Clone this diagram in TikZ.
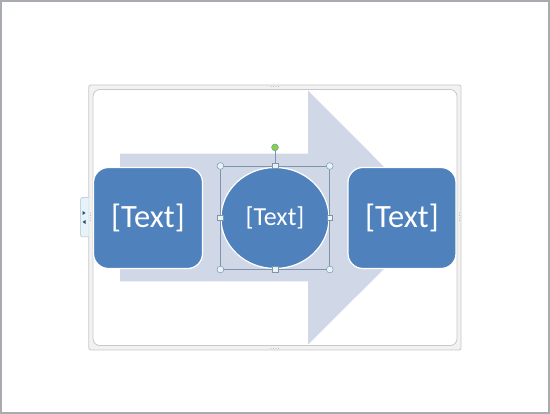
\documentclass[tikz,border=0pt]{standalone}
\usepackage{fontspec}
\setmainfont{Carlito}
\usetikzlibrary{positioning, shapes.geometric}

\definecolor{boxblue}{HTML}{4F81BD}
\definecolor{arrowfill}{HTML}{D0D8E8}
\definecolor{framegray}{HTML}{C8C8C8}
\definecolor{pagegray}{HTML}{A8ACB0}
\definecolor{selline}{HTML}{7F93AB}
\definecolor{handlefill}{HTML}{E6F4FA}
\definecolor{rotgreen}{HTML}{7ED646}
\definecolor{tabblue}{HTML}{1F4E79}

\tikzset{
    textbox/.style={draw=white, line width=1.2pt, fill=boxblue, rounded corners=15pt,
        minimum width=109pt, minimum height=101pt, text=white, font=\fontsize{32.5}{34}\selectfont},
    textoval/.style={draw=white, line width=1.2pt, fill=boxblue, ellipse, inner sep=0pt,
        minimum width=108pt, minimum height=101pt, text=white, font=\fontsize{26}{28}\selectfont},
    cornerhandle/.style={circle, draw=selline, fill=handlefill, line width=0.5pt,
        inner sep=0pt, minimum size=6.8pt},
    sidehandle/.style={rectangle, draw=selline, fill=handlefill, line width=0.5pt,
        inner sep=0pt, minimum size=5.5pt},
}

\begin{document}
\begin{tikzpicture}[x=1pt, y=-1pt]
    % Page
    \useasboundingbox (0,0) rectangle (550,414);
    \fill[pagegray] (0,0) rectangle (550,414);
    \fill[white] (2,2) rectangle (548,412);

    % SmartArt frame
    \filldraw[fill=black!5, draw=framegray, line width=0.8pt, rounded corners=2pt]
        (88.8,85) rectangle (461,350);
    \filldraw[fill=white, draw=framegray, line width=0.8pt, rounded corners=7pt]
        (93,89.5) rectangle (457,345.6);

    % Grips on the frame
    \foreach \x in {271,273.5,276,278.5} {
        \fill[black!30] (\x,86.6) circle (0.5pt);
        \fill[black!30] (\x,348.3) circle (0.5pt);
    }
    \foreach \y in {213,215.5,218,220.5} {
        \fill[black!30] (90.6,\y) circle (0.5pt);
        \fill[black!30] (459.3,\y) circle (0.5pt);
    }

    % Side tab
    \filldraw[fill=handlefill, draw=selline!60, line width=0.5pt, rounded corners=1.5pt]
        (88.5,197.5) -- (80.7,197.5) -- (80.7,237) -- (88.5,237);
    \fill[tabblue] (82.6,211) -- (85.6,213) -- (82.6,215) -- cycle;
    \fill[tabblue] (85.6,220) -- (82.6,222) -- (85.6,224) -- cycle;

    % Background arrow
    \fill[arrowfill] (120,153.7) -- (308,153.7) -- (308,90.5) -- (435,218)
        -- (308,344.6) -- (308,281.4) -- (120,281.4) -- cycle;

    % Shapes
    \node[textbox] (left) at (148,218) {[Text]};
    \node[textoval] (mid) at (275,218) {[Text]};
    \node[textbox, minimum width=108pt] (right) at (402,218) {[Text]};

    % Selection box
    \coordinate (nw) at (220.4,166);
    \coordinate (se) at (329.8,269.5);
    \draw[selline, line width=0.7pt] (nw) rectangle (se);
    \foreach \p/\q in {220.4/166, 329.8/166, 220.4/269.5, 329.8/269.5}
        \node[cornerhandle] at (\p,\q) {};
    \node[sidehandle] (top) at (275,166) {};
    \node[sidehandle] at (275,269.5) {};
    \node[sidehandle] at (220.4,217.7) {};
    \node[sidehandle] at (329.8,217.7) {};

    % Rotation handle
    \node[circle, draw=selline, fill=rotgreen, line width=0.5pt, inner sep=0pt,
        minimum size=6.8pt] (rot) at (275,147.4) {};
    \draw[selline, line width=0.7pt] (rot) -- (top);
\end{tikzpicture}
\end{document}
